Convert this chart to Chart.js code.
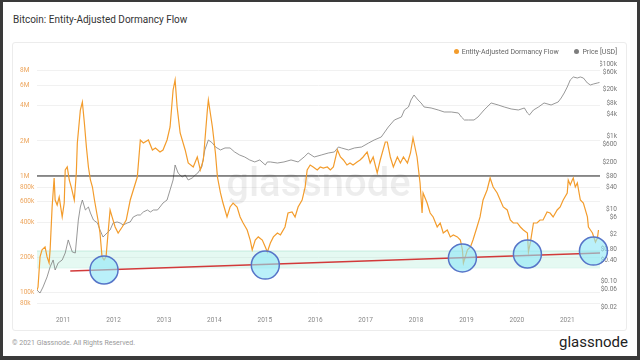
<!DOCTYPE html>
<html lang="en">
<head>
    <meta charset="UTF-8">
    <meta name="viewport" content="width=device-width, initial-scale=1.0">
    <title>Bitcoin: Entity-Adjusted Dormancy Flow</title>
    <style>
        html, body { margin: 0; padding: 0; }
        body { width: 640px; height: 360px; background: #3a3a3a; position: relative; overflow: hidden; font-family: Roboto, "Noto Sans", sans-serif; }
        #page { position: absolute; left: 3px; top: 2px; width: 634px; height: 354px; background: #fff; }
        .abs { position: absolute; }
        #title { left: 13px; top: 13px; font-size: 10px; line-height: 14px; color: #333; }
        #card { left: 12px; top: 42px; width: 615px; height: 289px; box-sizing: border-box; border: 1px solid #ececec; border-radius: 3px; }
        #wrap { left: 12px; top: 42px; width: 616px; height: 289px; }
        #legend { right: 23px; top: 47px; height: 10px; line-height: 10px; font-size: 7px; color: #666; white-space: nowrap; }
        #legend span.dot { display: inline-block; width: 5px; height: 5px; border-radius: 50%; margin-right: 3px; vertical-align: 0px; }
        #legend span.item { margin-left: 14px; }
        #footer { left: 12px; top: 338px; font-size: 7px; line-height: 10px; color: #999; }
        #logo { right: 12px; top: 333px; font-size: 15px; line-height: 18px; color: #222; font-weight: 400; }
    </style>
</head>
<body>
    <div id="page"></div>
    <div id="title" class="abs">Bitcoin: Entity-Adjusted Dormancy Flow</div>
    <div id="card" class="abs"></div>
    <div id="wrap" class="abs"><canvas id="flowChart"></canvas></div>
    <div id="legend" class="abs">
        <span class="item"><span class="dot" style="background:#f39c2c"></span>Entity-Adjusted Dormancy Flow</span>
        <span class="item"><span class="dot" style="background:#7d7d7d"></span>Price [USD]</span>
    </div>
    <div id="footer" class="abs">© 2021 Glassnode. All Rights Reserved.</div>
    <div id="logo" class="abs">glassnode</div>
    <script src="https://cdn.jsdelivr.net/npm/chart.js@4.4.1/dist/chart.umd.min.js"></script>
    <script>
        // dormancy flow (decimal year / value)
        const flowDates = [2010.48,2010.50,2010.54,2010.58,2010.64,2010.68,2010.72,2010.74,2010.78,2010.82,
            2010.84,2010.88,2010.92,2010.98,2011.02,2011.04,2011.08,2011.12,2011.16,2011.22,
            2011.26,2011.28,2011.34,2011.38,2011.42,2011.46,2011.50,2011.54,2011.58,2011.62,
            2011.69,2011.73,2011.77,2011.81,2011.85,2011.89,2011.93,2011.97,2012.03,2012.09,
            2012.17,2012.25,2012.33,2012.47,2012.53,2012.59,2012.69,2012.77,2012.83,2012.92,
            2012.98,2013.06,2013.12,2013.18,2013.22,2013.26,2013.32,2013.42,2013.48,2013.58,
            2013.66,2013.72,2013.78,2013.86,2013.88,2013.96,2014.02,2014.06,2014.12,2014.17,
            2014.25,2014.31,2014.37,2014.45,2014.51,2014.57,2014.65,2014.71,2014.75,2014.81,
            2014.87,2014.95,2015.01,2015.05,2015.11,2015.17,2015.25,2015.31,2015.40,2015.46,
            2015.54,2015.60,2015.66,2015.74,2015.80,2015.84,2015.90,2015.96,2016.04,2016.10,
            2016.16,2016.24,2016.30,2016.36,2016.44,2016.50,2016.56,2016.63,2016.69,2016.75,
            2016.83,2016.89,2016.95,2017.03,2017.09,2017.15,2017.23,2017.29,2017.39,2017.43,
            2017.49,2017.55,2017.63,2017.69,2017.75,2017.83,2017.89,2017.94,2018.02,2018.08,
            2018.12,2018.14,2018.22,2018.28,2018.34,2018.42,2018.48,2018.54,2018.62,2018.68,
            2018.74,2018.82,2018.88,2018.92,2018.94,2019.02,2019.08,2019.13,2019.21,2019.27,
            2019.33,2019.41,2019.47,2019.53,2019.61,2019.67,2019.73,2019.81,2019.87,2019.93,
            2020.01,2020.07,2020.13,2020.21,2020.23,2020.27,2020.33,2020.40,2020.46,2020.52,
            2020.60,2020.66,2020.72,2020.80,2020.86,2020.92,2021.00,2021.02,2021.06,2021.10,
            2021.12,2021.16,2021.20,2021.26,2021.32,2021.40,2021.42,2021.46,2021.50,2021.56,
            2021.60,2021.62];
        const flowValues = [105e3,111e3,202e3,232e3,246e3,202e3,179e3,232e3,542e3,961e3,
            622e3,564e3,660e3,445e3,586e3,1126e3,1195e3,924e3,804e3,622e3,
            1061e3,1920e3,3686e3,4317e3,2851e3,1774e3,1195e3,924e3,804e3,622e3,
            419e3,324e3,202e3,190e3,202e3,324e3,511e3,445e3,365e3,324e3,
            365e3,419e3,622e3,980e3,2037e3,1920e3,2037e3,1672e3,1740e3,1607e3,
            1672e3,2037e3,2634e3,5472e3,6670e3,3911e3,2340e3,1672e3,1293e3,1195e3,
            1456e3,1126e3,1372e3,3686e3,4491e3,2634e3,1576e3,980e3,715e3,586e3,
            445e3,542e3,586e3,542e3,445e3,395e3,344e3,282e3,232e3,282e3,
            300e3,282e3,246e3,223e3,266e3,300e3,324e3,312e3,365e3,481e3,
            491e3,445e3,542e3,622e3,804e3,1126e3,1243e3,1195e3,1126e3,1195e3,
            1171e3,1195e3,1126e3,1195e3,1672e3,1456e3,1372e3,1243e3,1293e3,1243e3,
            1319e3,1372e3,1456e3,1607e3,1293e3,1456e3,1061e3,1372e3,1958e3,1958e3,
            1456e3,1195e3,1456e3,1293e3,1456e3,1293e3,1576e3,2120e3,1456e3,871e3,
            481e3,715e3,586e3,481e3,445e3,365e3,395e3,324e3,344e3,300e3,
            312e3,300e3,282e3,232e3,179e3,232e3,246e3,282e3,365e3,445e3,
            622e3,758e3,961e3,804e3,715e3,622e3,542e3,511e3,419e3,395e3,
            395e3,365e3,344e3,324e3,223e3,271e3,395e3,395e3,419e3,419e3,
            491e3,481e3,445e3,511e3,542e3,622e3,715e3,924e3,837e3,924e3,
            961e3,804e3,871e3,622e3,586e3,445e3,365e3,344e3,324e3,271e3,
            294e3,344e3];

        // btc price in USD
        const priceDates = [2010.48,2010.54,2010.60,2010.68,2010.74,2010.80,2010.84,2010.90,2010.98,2011.04,
            2011.10,2011.18,2011.24,2011.30,2011.34,2011.38,2011.44,2011.50,2011.54,2011.60,
            2011.68,2011.73,2011.79,2011.87,2011.93,2011.99,2012.07,2012.13,2012.19,2012.27,
            2012.33,2012.39,2012.47,2012.53,2012.59,2012.67,2012.73,2012.79,2012.87,2012.92,
            2012.98,2013.06,2013.12,2013.18,2013.22,2013.28,2013.36,2013.42,2013.48,2013.56,
            2013.62,2013.67,2013.75,2013.81,2013.88,2013.96,2014.02,2014.12,2014.21,2014.31,
            2014.40,2014.50,2014.60,2014.70,2014.80,2014.90,2015.01,2015.05,2015.11,2015.25,
            2015.38,2015.52,2015.66,2015.78,2015.86,2015.98,2016.12,2016.26,2016.38,2016.46,
            2016.52,2016.66,2016.78,2016.92,2017.06,2017.17,2017.31,2017.45,2017.57,2017.71,
            2017.77,2017.85,2017.90,2017.96,2018.04,2018.10,2018.16,2018.30,2018.44,2018.56,
            2018.70,2018.84,2018.90,2018.96,2019.04,2019.15,2019.23,2019.35,2019.49,2019.63,
            2019.75,2019.89,2020.03,2020.15,2020.21,2020.25,2020.33,2020.43,2020.54,2020.68,
            2020.82,2020.88,2020.94,2021.00,2021.06,2021.12,2021.20,2021.26,2021.32,2021.40,
            2021.46,2021.52,2021.60,2021.64];
        const priceValues = [0.059,0.049,0.072,0.136,0.256,0.399,0.211,0.330,0.399,0.621,
            1.42,0.662,0.621,5.04,11.5,17.9,9.5,11.5,7.86,5.04,
            4.17,2.67,1.71,2.21,2.67,4.17,4.44,4.17,3.67,4.17,
            4.44,6.10,6.92,6.92,8.37,9.5,8.37,9.5,9.5,11.5,
            14.8,17.9,33.8,63.7,165,99,77,87.5,63.7,72.4,
            87.5,99,146,428,806,667,517,428,486,486,
            377,311,274,227,200,227,165,200,200,187,
            200,227,200,274,353,274,311,353,377,517,
            486,428,486,517,667,806,975,1837,2866,3467,
            5407,6538,10190,14000,10190,8433,6538,6138,5407,4761,
            4761,4467,3467,2866,2866,2866,3467,5407,8433,7426,
            6538,5759,5407,6138,4467,3936,5407,6538,8433,7426,
            8981,11570,15890,23240,36260,43840,41150,43840,41150,29970,
            26420,28140,29970,31000];

        // annotations drawn on the chart
        const spanDates = [2010.48, 2021.65];
        const levelLine = [1e6, 1e6];
        const bandTop = [227e3, 227e3];
        const bandBottom = [162e3, 162e3];
        const supportDates = [2011.14, 2021.65];
        const supportValues = [153e3, 218e3];
        const circleDates = [2011.81, 2015.01, 2018.92, 2020.21, 2021.52];
        const circleValues = [156e3, 172e3, 198e3, 214e3, 227e3];

        // axis ticks
        const yearTicks = [2011,2012,2013,2014,2015,2016,2017,2018,2019,2020,2021];
        const flowTicks = [80e3,100e3,200e3,400e3,600e3,800e3,1e6,2e6,4e6,6e6,8e6];
        const flowTickLabels = ['80k','100k','200k','400k','600k','800k','1M','2M','4M','6M','8M'];
        const priceTicks = [0.02,0.06,0.1,0.4,0.8,2,6,10,40,80,200,600,1000,4000,8000,20000,60000,100000];
        const priceTickLabels = ['$0.02','$0.06','$0.10','$0.40','$0.80','$2','$6','$10','$40','$80','$200','$600','$1k','$4k','$8k','$20k','$60k','$100k'];

        const pts = (xs, ys) => xs.map((x, i) => ({ x, y: ys[i] }))

        const watermark = {
            id: 'watermark',
            beforeDatasetsDraw(chart) {
                const { ctx, chartArea } = chart
                ctx.save()
                ctx.font = '500 40px Roboto'
                ctx.fillStyle = 'rgba(0,0,0,0.07)'
                ctx.textAlign = 'center'
                ctx.textBaseline = 'alphabetic'
                ctx.fillText('glassnode', (chartArea.left + chartArea.right) / 2, (chartArea.top + chartArea.bottom) / 2 + 11)
                ctx.restore()
            }
        }

        const tickFont = { family: 'Roboto', size: 6.5 }

        new Chart(document.getElementById('flowChart').getContext('2d'), {
            type: 'line',
            data: {
                datasets: [
                    {
                        label: 'circles',
                        data: pts(circleDates, circleValues),
                        yAxisID: 'y',
                        showLine: false,
                        pointRadius: 14,
                        pointBackgroundColor: 'rgba(140,230,246,0.6)',
                        pointBorderColor: '#5674c8',
                        pointBorderWidth: 1.5,
                        clip: false,
                        order: 0
                    },
                    {
                        label: 'support',
                        data: pts(supportDates, supportValues),
                        yAxisID: 'y',
                        borderColor: '#d23a3a',
                        borderWidth: 1.6,
                        order: 1
                    },
                    {
                        label: 'Entity-Adjusted Dormancy Flow',
                        data: pts(flowDates, flowValues),
                        yAxisID: 'y',
                        borderColor: '#f39c2c',
                        borderWidth: 1.2,
                        order: 2
                    },
                    {
                        label: 'level',
                        data: pts(spanDates, levelLine),
                        yAxisID: 'y',
                        borderColor: '#222',
                        borderWidth: 1,
                        order: 3
                    },
                    {
                        label: 'Price [USD]',
                        data: pts(priceDates, priceValues),
                        yAxisID: 'price',
                        borderColor: '#7d7d7d',
                        borderWidth: 0.8,
                        order: 4
                    },
                    {
                        label: 'bandTop',
                        data: pts(spanDates, bandTop),
                        yAxisID: 'y',
                        borderColor: 'rgba(150,215,195,0.6)',
                        borderWidth: 0.8,
                        backgroundColor: 'rgba(175,235,215,0.32)',
                        fill: '+1',
                        order: 5
                    },
                    {
                        label: 'bandBottom',
                        data: pts(spanDates, bandBottom),
                        yAxisID: 'y',
                        borderColor: 'rgba(150,215,195,0.35)',
                        borderWidth: 0.6,
                        order: 6
                    }
                ]
            },
            options: {
                responsive: true,
                maintainAspectRatio: false,
                animation: false,
                layout: { padding: { left: 8, right: 11, top: 16, bottom: 0 } },
                elements: { point: { radius: 0 }, line: { tension: 0 } },
                plugins: { legend: { display: false }, tooltip: { enabled: false } },
                scales: {
                    x: {
                        type: 'linear',
                        min: 2010.48,
                        max: 2021.65,
                        grid: { display: false, drawTicks: false },
                        border: { display: false },
                        ticks: { font: tickFont, color: '#888', padding: 4, maxRotation: 0, autoSkip: false, callback: v => String(v) },
                        afterBuildTicks: s => { s.ticks = yearTicks.map(v => ({ value: v })) },
                        afterFit: s => { s.height = 19 }
                    },
                    y: {
                        type: 'logarithmic',
                        position: 'left',
                        min: 68000,
                        max: 10300000,
                        grid: { color: '#f1f1f1', drawTicks: false },
                        border: { display: false },
                        ticks: { font: tickFont, color: '#eda55c', crossAlign: 'far', autoSkip: false, callback: (v, i) => flowTickLabels[i] },
                        afterBuildTicks: s => { s.ticks = flowTicks.map(v => ({ value: v })) },
                        afterFit: s => { s.width = 17 }
                    },
                    price: {
                        type: 'logarithmic',
                        position: 'right',
                        min: 0.0147,
                        max: 146300,
                        grid: { display: false, drawTicks: false },
                        border: { display: false },
                        ticks: { font: tickFont, color: '#777', crossAlign: 'far', autoSkip: false, callback: (v, i) => priceTickLabels[i] },
                        afterBuildTicks: s => { s.ticks = priceTicks.map(v => ({ value: v })) },
                        afterFit: s => { s.width = 17 }
                    }
                }
            },
            plugins: [watermark]
        });
    </script>
</body>
</html>
